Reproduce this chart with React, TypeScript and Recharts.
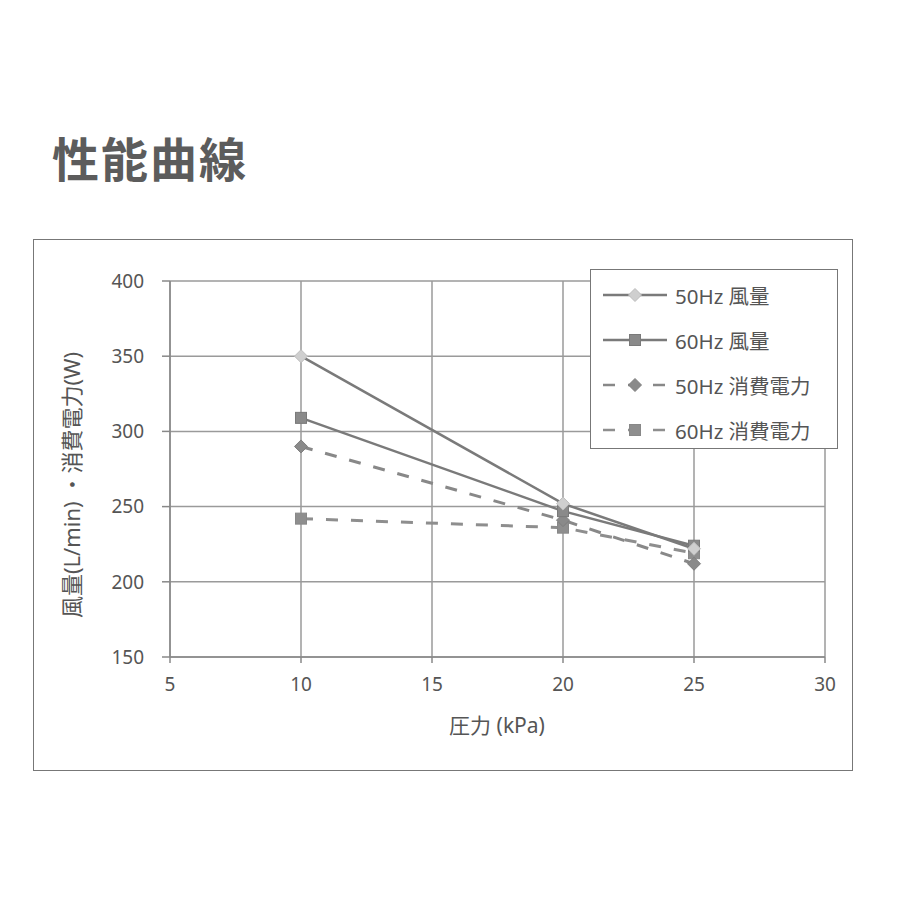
import React from "react";
import { LineChart, Line, XAxis, YAxis, CartesianGrid } from "recharts";

// pressure (kPa) vs flow (L/min) / power (W)
const pressure = [10, 20, 25];
const flow50 = [350, 252, 222];
const flow60 = [309, 247, 224];
const power50 = [290, 241, 212];
const power60 = [242, 236, 219];

const xTicks = [5, 10, 15, 20, 25, 30];
const yTicks = [150, 200, 250, 300, 350, 400];

const seriesNames = ["50Hz 風量", "60Hz 風量", "50Hz 消費電力", "60Hz 消費電力"];

const data = pressure.map((p, i) => ({
  p,
  f50: flow50[i],
  f60: flow60[i],
  w50: power50[i],
  w60: power60[i],
}));

const FONT = "'Noto Sans', 'Noto Sans CJK JP', sans-serif";
const DASH = "12 13";

type Marker = "diamond" | "square";

function markerShape(kind: Marker, cx: number, cy: number, fill: string, stroke: string, key?: string) {
  if (kind === "diamond") {
    const r = 6.5;
    return (
      <path
        key={key}
        d={`M${cx},${cy - r}L${cx + r},${cy}L${cx},${cy + r}L${cx - r},${cy}Z`}
        fill={fill}
        stroke={stroke}
        strokeWidth={1}
      />
    );
  }
  const s = 5.5;
  return (
    <rect key={key} x={cx - s} y={cy - s} width={s * 2} height={s * 2} fill={fill} stroke={stroke} strokeWidth={1} />
  );
}

const makeDot = (kind: Marker, fill: string, stroke: string) => (props: any) =>
  markerShape(kind, props.cx, props.cy, fill, stroke, `d-${props.index}`);

const legendItems = [
  { name: seriesNames[0], color: "#7a7a7a", dash: undefined, kind: "diamond" as Marker, fill: "#cfcfcf", mstroke: "#bdbdbd" },
  { name: seriesNames[1], color: "#7a7a7a", dash: undefined, kind: "square" as Marker, fill: "#8a8a8a", mstroke: "#7a7a7a" },
  { name: seriesNames[2], color: "#888", dash: DASH, kind: "diamond" as Marker, fill: "#8a8a8a", mstroke: "#7e7e7e" },
  { name: seriesNames[3], color: "#8e8e8e", dash: DASH, kind: "square" as Marker, fill: "#8e8e8e", mstroke: "#888" },
];

function LegendBox() {
  return (
    <div
      style={{
        position: "absolute",
        left: 590,
        top: 269,
        width: 248,
        height: 180,
        border: "1.5px solid #777",
        background: "#fff",
        boxSizing: "border-box",
        paddingTop: 2,
      }}
    >
      {legendItems.map((it, i) => (
        <div key={i} style={{ display: "flex", alignItems: "center", height: 45 }}>
          <svg width={66} height={20} style={{ marginLeft: 12 }}>
            <line x1={0} y1={10} x2={64} y2={10} stroke={it.color} strokeWidth={2.5} strokeDasharray={it.dash} />
            {markerShape(it.kind, 32, 10, it.fill, it.mstroke)}
          </svg>
          <span style={{ fontFamily: FONT, fontSize: 20.5, color: "#555", marginLeft: 6, whiteSpace: "nowrap" }}>
            {it.name}
          </span>
        </div>
      ))}
    </div>
  );
}

export default function App() {
  return (
    <div style={{ position: "absolute", left: 0, top: 0, width: 900, height: 900, background: "#fff" }}>
      <div
        style={{
          position: "absolute",
          left: 52,
          top: 122,
          fontFamily: "'Noto Sans CJK JP', sans-serif",
          fontWeight: 700,
          fontSize: 47,
          color: "#5c5c5c",
          letterSpacing: 2,
        }}
      >
        性能曲線
      </div>
      <div
        style={{
          position: "absolute",
          left: 33,
          top: 239,
          width: 820,
          height: 532,
          border: "1.5px solid #777",
          boxSizing: "border-box",
          background: "#fff",
        }}
      />
      <div style={{ position: "absolute", left: 33, top: 239 }}>
        <LineChart
          width={820}
          height={532}
          data={data}
          margin={{ top: 42, right: 28, left: 77, bottom: 84 }}
        >
          <CartesianGrid stroke="#9a9a9a" strokeWidth={1.5} />
          <XAxis
            dataKey="p"
            type="number"
            domain={[5, 30]}
            ticks={xTicks}
            height={30}
            stroke="#888"
            strokeWidth={1.5}
            tickSize={6}
            tickMargin={15}
            tick={{ fill: "#555", fontSize: 19, fontFamily: FONT }}
          />
          <YAxis
            type="number"
            domain={[150, 400]}
            ticks={yTicks}
            width={60}
            stroke="#888"
            strokeWidth={1.5}
            tickSize={8}
            tickMargin={18}
            tick={{ fill: "#555", fontSize: 19, fontFamily: FONT }}
          />
          <Line
            dataKey="w60"
            name={seriesNames[3]}
            stroke="#8e8e8e"
            strokeWidth={3}
            strokeDasharray={DASH}
            dot={makeDot("square", "#8e8e8e", "#888")}
            isAnimationActive={false}
          />
          <Line
            dataKey="w50"
            name={seriesNames[2]}
            stroke="#888"
            strokeWidth={3}
            strokeDasharray={DASH}
            dot={makeDot("diamond", "#8a8a8a", "#7e7e7e")}
            isAnimationActive={false}
          />
          <Line
            dataKey="f60"
            name={seriesNames[1]}
            stroke="#7a7a7a"
            strokeWidth={2.5}
            dot={makeDot("square", "#8a8a8a", "#7a7a7a")}
            isAnimationActive={false}
          />
          <Line
            dataKey="f50"
            name={seriesNames[0]}
            stroke="#7a7a7a"
            strokeWidth={2.5}
            dot={makeDot("diamond", "#cfcfcf", "#bdbdbd")}
            isAnimationActive={false}
          />
        </LineChart>
      </div>
      <LegendBox />
      <div
        style={{
          position: "absolute",
          left: 497,
          top: 724,
          transform: "translate(-50%, -50%)",
          fontFamily: FONT,
          fontSize: 21,
          color: "#555",
          whiteSpace: "nowrap",
        }}
      >
        圧力 (kPa)
      </div>
      <div
        style={{
          position: "absolute",
          left: 70,
          top: 485,
          transform: "translate(-50%, -50%) rotate(-90deg)",
          fontFamily: FONT,
          fontSize: 22,
          color: "#555",
          whiteSpace: "nowrap",
        }}
      >
        風量(L/min) ・消費電力(W)
      </div>
    </div>
  );
}
